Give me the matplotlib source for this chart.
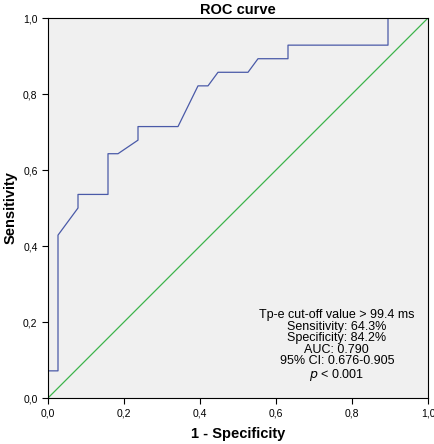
import matplotlib
matplotlib.use("Agg")
import matplotlib.pyplot as plt
plt.rcParams['font.family'] = ['Liberation Sans', 'DejaVu Sans']

fpr = [0, 0, 1, 1, 3, 3, 6, 6, 7, 9, 9, 13, 15, 16, 17, 20, 21, 24, 24, 34, 34, 38]
tpr = [0, 2, 2, 12, 14, 15, 15, 18, 18, 19, 20, 20, 23, 23, 24, 24, 25, 25, 26, 26, 28, 28]
n_neg, n_pos = 38, 28
x = [v / n_neg for v in fpr]
y = [v / n_pos for v in tpr]
ticks = [0, 0.2, 0.4, 0.6, 0.8, 1.0]
ticklabels = ["0,0", "0,2", "0,4", "0,6", "0,8", "1,0"]

fig = plt.figure(figsize=(4.34, 4.44), dpi=100)
ax = fig.add_axes([48/434, 46/444, 380/434, 380/444])
ax.set_facecolor("#f0f0f0")
ax.plot([0, 1], [0, 1], color="#3cb44b", lw=0.9)
ax.plot(x, y, color="#4a5aa8", lw=0.9)
ax.set_xlim(0, 1); ax.set_ylim(0, 1)
ax.set_xticks(ticks); ax.set_xticklabels(ticklabels, fontsize=7.5)
ax.set_yticks(ticks); ax.set_yticklabels(ticklabels, fontsize=7.5)
ax.tick_params(length=4, width=0.8)
for s in ax.spines.values():
    s.set_linewidth(0.8)
ax.set_title("ROC curve", fontsize=10.5, fontweight="bold", pad=3)
ax.set_xlabel("1 - Specificity", fontsize=10.5, fontweight="bold", labelpad=6)
ax.set_ylabel("Sensitivity", fontsize=10.5, fontweight="bold")
txt = ("Tp-e cut-off value > 99.4 ms\nSensitivity: 64.3%\nSpecificity: 84.2%\n"
       "AUC: 0.790\n95% CI: 0.676-0.905\n$p$ < 0.001")
ax.text(0.76, 0.04, txt, ha="center", va="bottom", fontsize=9,
        linespacing=0.95, transform=ax.transAxes)
fig.savefig("out.png", dpi=100)
